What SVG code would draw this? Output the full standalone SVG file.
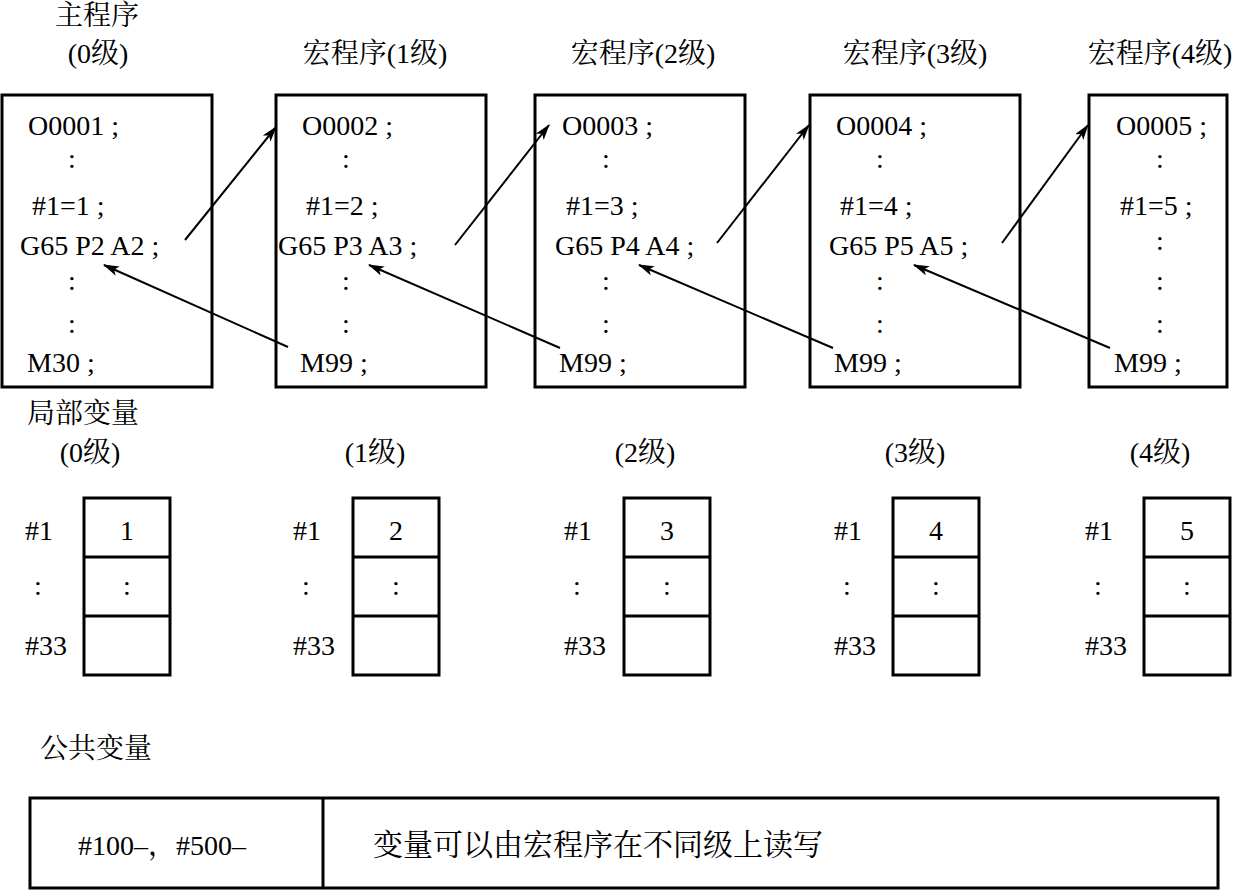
<svg xmlns="http://www.w3.org/2000/svg" width="1242" height="892" viewBox="0 0 1242 892">
<style>
text{font-family:"Liberation Serif","Noto Serif CJK SC","Noto Sans CJK SC",serif;font-size:28px;fill:#000}
.c{text-anchor:middle}
.k{font-size:30px}
.b{fill:none;stroke:#000;stroke-width:3}
.a{stroke:#000;stroke-width:2;fill:none;marker-end:url(#ah)}
</style>
<defs><marker id="ah" markerWidth="16" markerHeight="10" refX="15" refY="5" orient="auto" markerUnits="userSpaceOnUse"><path d="M0,0 L16,5 L0,10 L4,5 z" fill="#000"/></marker></defs>
<rect width="1242" height="892" fill="#fff"/>
<g id="headers">
<text class="c" x="97" y="25">主程序</text><text class="c" x="98" y="63">(0级)</text>
<text class="c" x="375" y="63">宏程序(1级)</text><text class="c" x="643" y="63">宏程序(2级)</text>
<text class="c" x="915" y="63">宏程序(3级)</text><text class="c" x="1160" y="63">宏程序(4级)</text>
</g>
<g id="prog0"><rect class="b" x="2" y="95" width="210" height="292"/>
<text x="28" y="135">O0001 ;</text><text class="c" x="72" y="168">:</text><text x="32" y="215">#1=1 ;</text><text x="20" y="255">G65 P2 A2 ;</text><text class="c" x="72" y="290">:</text><text class="c" x="72" y="333">:</text><text x="27" y="372">M30 ;</text></g>
<g id="prog1"><rect class="b" x="276" y="95" width="210" height="292"/>
<text x="302" y="135">O0002 ;</text><text class="c" x="346" y="168">:</text><text x="306" y="215">#1=2 ;</text><text x="278" y="255">G65 P3 A3 ;</text><text class="c" x="346" y="290">:</text><text class="c" x="346" y="333">:</text><text x="300" y="372">M99 ;</text></g>
<g id="prog2"><rect class="b" x="535" y="95" width="210" height="292"/>
<text x="562" y="135">O0003 ;</text><text class="c" x="606" y="168">:</text><text x="566" y="215">#1=3 ;</text><text x="555" y="255">G65 P4 A4 ;</text><text class="c" x="606" y="290">:</text><text class="c" x="606" y="333">:</text><text x="559" y="372">M99 ;</text></g>
<g id="prog3"><rect class="b" x="810" y="95" width="210" height="292"/>
<text x="836" y="135">O0004 ;</text><text class="c" x="880" y="168">:</text><text x="840" y="215">#1=4 ;</text><text x="829" y="255">G65 P5 A5 ;</text><text class="c" x="880" y="290">:</text><text class="c" x="880" y="333">:</text><text x="834" y="372">M99 ;</text></g>
<g id="prog4"><rect class="b" x="1089" y="95" width="138" height="292"/>
<text x="1116" y="135">O0005 ;</text><text class="c" x="1160" y="168">:</text><text x="1120" y="215">#1=5 ;</text><text class="c" x="1160" y="250">:</text><text class="c" x="1160" y="290">:</text><text class="c" x="1160" y="333">:</text><text x="1114" y="372">M99 ;</text></g>
<g id="connectors">
<line class="a" x1="185" y1="240" x2="276" y2="127"/>
<line class="a" x1="455" y1="245" x2="549" y2="125"/>
<line class="a" x1="717" y1="243" x2="809" y2="125"/>
<line class="a" x1="1002" y1="243" x2="1088" y2="125"/>
<line class="a" x1="288" y1="347" x2="104" y2="265"/>
<line class="a" x1="560" y1="348" x2="369" y2="265"/>
<line class="a" x1="833" y1="348" x2="639" y2="265"/>
<line class="a" x1="1110" y1="348" x2="914" y2="265"/>
</g>
<g id="local-headers">
<text x="27" y="423">局部变量</text>
<text class="c" x="90" y="462">(0级)</text><text class="c" x="375" y="462">(1级)</text><text class="c" x="645" y="462">(2级)</text><text class="c" x="915" y="462">(3级)</text><text class="c" x="1160" y="462">(4级)</text>
</g>
<g id="vars0"><rect class="b" x="84" y="498" width="86" height="177"/><line class="b" x1="84" y1="557" x2="170" y2="557"/><line class="b" x1="84" y1="616" x2="170" y2="616"/>
<text x="25" y="540">#1</text><text class="c" x="38" y="595">:</text><text x="25" y="655">#33</text><text class="c" x="127" y="540">1</text><text class="c" x="127" y="595">:</text></g>
<g id="vars1"><rect class="b" x="353" y="498" width="86" height="177"/><line class="b" x1="353" y1="557" x2="439" y2="557"/><line class="b" x1="353" y1="616" x2="439" y2="616"/>
<text x="293" y="540">#1</text><text class="c" x="306" y="595">:</text><text x="293" y="655">#33</text><text class="c" x="396" y="540">2</text><text class="c" x="396" y="595">:</text></g>
<g id="vars2"><rect class="b" x="624" y="498" width="86" height="177"/><line class="b" x1="624" y1="557" x2="710" y2="557"/><line class="b" x1="624" y1="616" x2="710" y2="616"/>
<text x="564" y="540">#1</text><text class="c" x="577" y="595">:</text><text x="564" y="655">#33</text><text class="c" x="667" y="540">3</text><text class="c" x="667" y="595">:</text></g>
<g id="vars3"><rect class="b" x="893" y="498" width="86" height="177"/><line class="b" x1="893" y1="557" x2="979" y2="557"/><line class="b" x1="893" y1="616" x2="979" y2="616"/>
<text x="834" y="540">#1</text><text class="c" x="847" y="595">:</text><text x="834" y="655">#33</text><text class="c" x="936" y="540">4</text><text class="c" x="936" y="595">:</text></g>
<g id="vars4"><rect class="b" x="1144" y="498" width="86" height="177"/><line class="b" x1="1144" y1="557" x2="1230" y2="557"/><line class="b" x1="1144" y1="616" x2="1230" y2="616"/>
<text x="1085" y="540">#1</text><text class="c" x="1098" y="595">:</text><text x="1085" y="655">#33</text><text class="c" x="1187" y="540">5</text><text class="c" x="1187" y="595">:</text></g>
<g id="common">
<text x="40" y="758">公共变量</text>
<rect class="b" x="30" y="798" width="1188" height="90"/><line class="b" x1="323" y1="798" x2="323" y2="888"/>
<text x="78" y="855">#100–，#500–</text><text class="k" x="373" y="855">变量可以由宏程序在不同级上读写</text>
</g>
</svg>
